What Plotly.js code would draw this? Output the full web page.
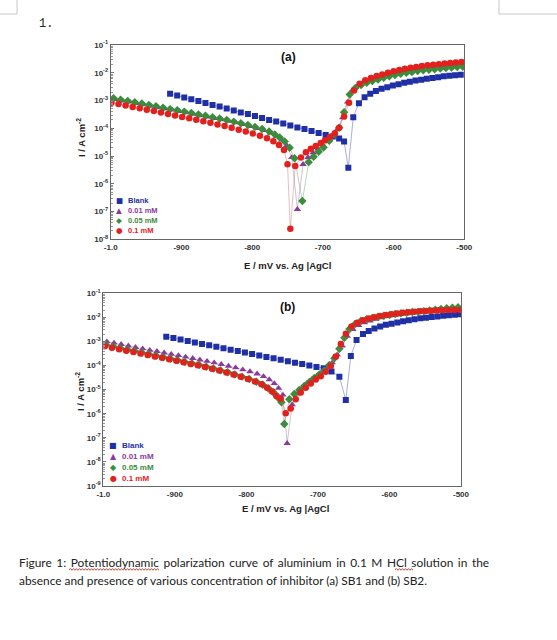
<!DOCTYPE html>
<html>
<head>
<meta charset="utf-8">
<script src="https://cdn.plot.ly/plotly-3.0.1.min.js"></script>
<style>
html,body{margin:0;padding:0;background:#ffffff;}
#chart{width:557px;height:640px;}
</style>
</head>
<body>
<div id="chart"></div>
<script>
// ---------- labels ----------
const seriesNames = ['Blank', '0.01 mM', '0.05 mM', '0.1 mM'];
const xTickVals = [-1000, -900, -800, -700, -600, -500];
const xTickText = ['-1.0', '-900', '-800', '-700', '-600', '-500'];
const yTickValsA = [1e-1, 1e-2, 1e-3, 1e-4, 1e-5, 1e-6, 1e-7, 1e-8];
const yTickTextA = ['10<sup>-1</sup>','10<sup>-2</sup>','10<sup>-3</sup>','10<sup>-4</sup>','10<sup>-5</sup>','10<sup>-6</sup>','10<sup>-7</sup>','10<sup>-8</sup>'];
const yTickValsB = [1e-1, 1e-2, 1e-3, 1e-4, 1e-5, 1e-6, 1e-7, 1e-8, 1e-9];
const yTickTextB = ['10<sup>-1</sup>','10<sup>-2</sup>','10<sup>-3</sup>','10<sup>-4</sup>','10<sup>-5</sup>','10<sup>-6</sup>','10<sup>-7</sup>','10<sup>-8</sup>','10<sup>-9</sup>'];

// ---------- panel (a) : SB1 ----------  (E in mV, log10 of I in A cm-2)
const aBlankE = [-916,-906,-896,-886,-876,-866,-856,-846,-836,-826,-816,-806,-796,-786,-776,-766,-756,-746,-736,-726,-716,-706,-696,-686,
  -677,-670,-664,
  -657,-649,-641,-633,-625,-617,-609,-601,-593,-585,-577,-569,-561,-553,-545,-537,-529,-521,-513,-505];
const aBlankLogI = [-2.76,-2.82,-2.89,-2.95,-3.02,-3.09,-3.16,-3.22,-3.29,-3.36,-3.43,-3.49,-3.56,-3.63,-3.70,-3.76,-3.83,-3.90,-3.97,-4.03,-4.10,-4.17,-4.24,-4.30,
  -4.37,-4.48,-5.42,
  -3.60,-3.10,-2.88,-2.76,-2.66,-2.58,-2.52,-2.46,-2.41,-2.36,-2.32,-2.28,-2.25,-2.22,-2.19,-2.16,-2.13,-2.11,-2.09,-2.07];

const a001E = [-993,-983,-973,-963,-953,-943,-933,-923,-913,-903,-893,-883,-873,-863,-853,-843,-833,-823,-813,-803,-793,-783,
  -774,-766,-758,-751,-744,-736,-728,-721,-714,-707,-700,-693,-686,-679,-672,-665,-658,-650,-642,
  -634,-626,-618,-610,-602,-594,-586,-578,-570,-562,-554,-546,-538,-530,-522,-514,-506];
const a001LogI = [-2.96,-3.01,-3.05,-3.10,-3.15,-3.20,-3.25,-3.30,-3.34,-3.39,-3.44,-3.49,-3.54,-3.59,-3.64,-3.69,-3.74,-3.80,-3.86,-3.93,-4.00,-4.08,
  -4.17,-4.28,-4.42,-4.62,-5.05,-6.92,-5.30,-5.05,-4.88,-4.74,-4.60,-4.42,-4.24,-4.02,-3.62,-3.05,-2.62,-2.44,-2.33,
  -2.25,-2.18,-2.12,-2.07,-2.02,-1.97,-1.93,-1.89,-1.86,-1.83,-1.80,-1.78,-1.76,-1.74,-1.72,-1.70,-1.69];

const a005E = [-996,-986,-976,-966,-956,-946,-936,-926,-916,-906,-896,-886,-876,-866,-856,-846,-836,-826,-816,-806,-796,-786,-776,
  -768,-761,-754,-747,-740,-729,-720,-713,-706,-699,-691,-684,-677,-670,-662,-654,-646,-638,
  -630,-622,-614,-606,-598,-590,-582,-574,-566,-558,-550,-542,-534,-526,-518,-510,-502];
const a005LogI = [-2.92,-2.97,-3.02,-3.06,-3.11,-3.16,-3.21,-3.26,-3.31,-3.35,-3.40,-3.45,-3.50,-3.55,-3.60,-3.65,-3.70,-3.76,-3.82,-3.88,-3.95,-4.03,-4.12,
  -4.22,-4.33,-4.48,-4.70,-5.08,-6.62,-5.22,-5.03,-4.85,-4.69,-4.45,-4.22,-3.98,-3.42,-2.78,-2.55,-2.44,-2.36,
  -2.30,-2.24,-2.18,-2.13,-2.08,-2.04,-2.00,-1.97,-1.94,-1.91,-1.89,-1.87,-1.85,-1.83,-1.81,-1.79,-1.78];

const a01E = [-999,-989,-979,-969,-959,-949,-939,-929,-919,-909,-899,-889,-879,-869,-859,-849,-839,-829,-819,-809,-799,-789,-779,
  -770,-762,-755,-750,-746,-739,-731,-724,-717,-710,-703,-697,-690,-683,-677,-670,-663,-656,-648,-640,
  -632,-624,-616,-608,-600,-592,-584,-576,-568,-560,-552,-544,-536,-528,-520,-512,-504];
const a01LogI = [-3.08,-3.13,-3.18,-3.23,-3.28,-3.33,-3.38,-3.43,-3.49,-3.54,-3.59,-3.64,-3.69,-3.75,-3.80,-3.86,-3.92,-3.98,-4.05,-4.12,-4.19,-4.27,-4.36,
  -4.47,-4.60,-4.78,-5.30,-7.62,-5.36,-5.05,-4.86,-4.74,-4.64,-4.53,-4.43,-4.31,-4.18,-3.98,-3.58,-3.08,-2.64,-2.40,-2.27,
  -2.19,-2.12,-2.06,-2.00,-1.95,-1.90,-1.86,-1.82,-1.79,-1.76,-1.73,-1.71,-1.69,-1.67,-1.65,-1.63,-1.61];

// ---------- panel (b) : SB2 ----------
const bBlankE = [-912,-902,-892,-882,-872,-862,-852,-842,-832,-822,-812,-802,-792,-782,-772,-762,-752,-742,-732,-722,-712,-702,-692,
  -681,-670,-661,-654,-646,-637,
  -629,-621,-613,-605,-597,-589,-581,-573,-565,-557,-549,-541,-533,-525,-517,-509,-502];
const bBlankLogI = [-2.80,-2.86,-2.92,-2.98,-3.04,-3.10,-3.16,-3.22,-3.28,-3.34,-3.40,-3.46,-3.52,-3.58,-3.64,-3.70,-3.76,-3.82,-3.88,-3.94,-4.00,-4.06,-4.11,
  -4.25,-4.46,-5.43,-3.60,-2.94,-2.69,
  -2.56,-2.46,-2.38,-2.31,-2.26,-2.21,-2.16,-2.12,-2.08,-2.04,-2.01,-1.98,-1.96,-1.93,-1.91,-1.89,-1.87];

const b001E = [-995,-985,-975,-965,-955,-945,-935,-925,-915,-905,-895,-885,-875,-865,-855,-845,-835,-825,-815,-805,-795,-785,
  -776,-768,-761,-755,-749,-743,-736,-729,-722,-715,-708,-701,-694,-687,-680,-673,-666,-659,-651,-643,
  -635,-627,-619,-611,-603,-595,-587,-579,-571,-563,-555,-547,-539,-531,-523,-515,-507];
const b001LogI = [-3.01,-3.06,-3.12,-3.18,-3.24,-3.30,-3.36,-3.41,-3.47,-3.53,-3.58,-3.64,-3.70,-3.76,-3.82,-3.88,-3.95,-4.02,-4.09,-4.17,-4.25,-4.34,
  -4.45,-4.58,-4.74,-4.94,-5.22,-7.23,-5.62,-5.18,-4.92,-4.72,-4.56,-4.42,-4.28,-4.10,-3.88,-3.55,-3.18,-2.78,-2.50,-2.33,
  -2.22,-2.14,-2.07,-2.01,-1.96,-1.92,-1.88,-1.84,-1.81,-1.78,-1.76,-1.74,-1.72,-1.70,-1.68,-1.67,-1.66];

const b005E = [-996,-986,-976,-966,-956,-946,-936,-926,-916,-906,-896,-886,-876,-866,-856,-846,-836,-826,-816,-806,-796,-786,
  -777,-769,-762,-756,-751,-747,-740,-733,-726,-719,-712,-705,-698,-691,-684,-677,-670,-663,-656,-648,-640,
  -632,-624,-616,-608,-600,-592,-584,-576,-568,-560,-552,-544,-536,-528,-520,-512,-504];
const b005LogI = [-3.15,-3.21,-3.28,-3.34,-3.40,-3.47,-3.53,-3.59,-3.66,-3.72,-3.78,-3.85,-3.91,-3.98,-4.05,-4.12,-4.20,-4.28,-4.37,-4.46,-4.56,-4.67,
  -4.80,-4.95,-5.12,-5.33,-5.52,-6.43,-5.40,-5.18,-5.01,-4.85,-4.68,-4.52,-4.37,-4.20,-3.98,-3.70,-3.30,-2.85,-2.48,-2.27,-2.15,
  -2.08,-2.02,-1.97,-1.93,-1.90,-1.86,-1.83,-1.81,-1.78,-1.76,-1.74,-1.71,-1.68,-1.65,-1.62,-1.60,-1.58];

const b01E = [-998,-988,-978,-968,-958,-948,-938,-928,-918,-908,-898,-888,-878,-868,-858,-848,-838,-828,-818,-808,-798,-788,
  -779,-771,-764,-758,-752,-745,-738,-731,-724,-717,-710,-703,-696,-689,-682,-675,-668,-661,-653,-645,
  -637,-629,-621,-613,-605,-597,-589,-581,-573,-565,-557,-549,-541,-533,-525,-517,-509,-501];
const b01LogI = [-3.20,-3.26,-3.32,-3.38,-3.44,-3.50,-3.56,-3.62,-3.68,-3.74,-3.80,-3.86,-3.93,-3.99,-4.06,-4.13,-4.21,-4.29,-4.37,-4.46,-4.56,-4.66,
  -4.78,-4.92,-5.08,-5.26,-5.38,-5.98,-5.78,-5.40,-5.12,-4.92,-4.74,-4.58,-4.44,-4.26,-4.02,-3.62,-3.10,-2.68,-2.38,-2.22,
  -2.12,-2.05,-1.99,-1.94,-1.90,-1.87,-1.84,-1.81,-1.79,-1.77,-1.75,-1.73,-1.72,-1.71,-1.70,-1.69,-1.69,-1.69];

// ---------- styles ----------
const W = 557, H = 640;
const px = x => x / W;
const py = y => 1 - y / H;
const colors = ['#1f2fa6', '#8a3a9c', '#3b8c3b', '#e2201e'];
const lineColors = ['rgba(60,70,170,0.55)', 'rgba(150,110,150,0.55)', 'rgba(110,150,110,0.55)', 'rgba(200,110,110,0.55)'];
const symbols = ['square', 'triangle-up', 'diamond', 'circle'];
const sizes = [6, 6.5, 6.5, 6.5];

function mk(E, logI, i, xa, ya) {
  return {
    type: 'scatter', mode: 'lines+markers',
    x: E, y: logI.map(v => Math.pow(10, v)),
    name: seriesNames[i], showlegend: false,
    xaxis: xa, yaxis: ya,
    line: {color: lineColors[i], width: 0.8},
    marker: {symbol: symbols[i], size: sizes[i], color: colors[i], line: {width: 0}}
  };
}

const traces = [
  mk(aBlankE, aBlankLogI, 0, 'x', 'y'),
  mk(a001E, a001LogI, 1, 'x', 'y'),
  mk(a005E, a005LogI, 2, 'x', 'y'),
  mk(a01E, a01LogI, 3, 'x', 'y'),
  mk(bBlankE, bBlankLogI, 0, 'x2', 'y2'),
  mk(b001E, b001LogI, 1, 'x2', 'y2'),
  mk(b005E, b005LogI, 2, 'x2', 'y2'),
  mk(b01E, b01LogI, 3, 'x2', 'y2')
];

const tickFont = {family: 'Liberation Sans, Arial, sans-serif', size: 8, color: '#333', weight: 'bold'};
function xax(domain, anchor) {
  return {domain: domain, anchor: anchor, range: [-1000, -500], tickmode: 'array', tickvals: xTickVals, ticktext: xTickText,
    showline: true, mirror: true, linecolor: '#666', linewidth: 1, ticks: '', showgrid: false, zeroline: false, tickfont: tickFont};
}
function yax(domain, anchor, range, vals, text) {
  return {domain: domain, anchor: anchor, type: 'log', range: range, tickmode: 'array', tickvals: vals, ticktext: text,
    showline: true, mirror: true, linecolor: '#666', linewidth: 1, ticks: 'inside', ticklen: 3, tickcolor: '#777',
    minor: {dtick: 'D1', ticks: 'inside', ticklen: 2, tickcolor: '#999', showgrid: false},
    showgrid: false, zeroline: false, tickfont: tickFont};
}

const titleFont = {family: 'Liberation Sans, Arial, sans-serif', size: 9.5, color: '#222', weight: 'bold'};
const annotations = [];
function ann(x, y, text, opts) {
  annotations.push(Object.assign({xref: 'paper', yref: 'paper', x: px(x), y: py(y), text: text, showarrow: false,
    xanchor: 'center', yanchor: 'middle'}, opts || {}));
}
// panel labels
ann(288, 57, '(a)', {font: {family: 'Liberation Sans, Arial, sans-serif', size: 12, color: '#111', weight: 'bold'}});
ann(287, 307, '(b)', {font: {family: 'Liberation Sans, Arial, sans-serif', size: 12, color: '#111', weight: 'bold'}});
// axis titles
ann(287, 265, 'E / mV vs. Ag |AgCl', {font: titleFont});
ann(285, 508, 'E / mV vs. Ag |AgCl', {font: titleFont});
ann(81, 138, 'I / A cm<sup>-2</sup>', {font: titleFont, textangle: -90});
ann(80, 392, 'I / A cm<sup>-2</sup>', {font: titleFont, textangle: -90});
// legends
const legendGlyphs = ['\u25A0', '\u25B2', '\u25C6', '\u25CF'];
const legA = {sx: 119.3, tx: 125.5, rows: [200, 210.3, 220.7, 230.7], size: 7.5};
const legB = {sx: 113, tx: 119.5, rows: [445.7, 456.7, 467.3, 478.3], size: 8};
[legA, legB].forEach(L => {
  seriesNames.forEach((n, i) => {
    ann(L.sx, L.rows[i], legendGlyphs[i], {font: {family: 'DejaVu Sans', size: L.size, color: colors[i]}});
    ann(L.tx, L.rows[i], n, {xanchor: 'left', font: {family: 'Liberation Sans, Arial, sans-serif', size: L.size, weight: 'bold', color: colors[i]}});
  });
});
// document text
ann(37, 24, '1.', {xanchor: 'left', font: {family: 'Liberation Mono, monospace', size: 12, color: '#222'}});
const capFont = {family: 'Lato, Open Sans, sans-serif', size: 11.9, color: '#222'};
ann(17, 562, '<span style="word-spacing:1.5px">Figure 1: Potentiodynamic polarization curve of aluminium in 0.1 M HCl solution in the</span>', {xanchor: 'left', font: capFont});
ann(17, 580, 'absence and presence of various concentration of inhibitor (a) SB1 and (b) SB2.', {xanchor: 'left', font: capFont});

// decorations: page corner marks & spell-check squiggles
function squiggle(x0, x1, y) {
  let d = 'M ' + px(x0) + ',' + py(y);
  let up = true;
  for (let x = x0 + 1.5; x <= x1; x += 1.5) {
    d += ' L ' + px(x) + ',' + py(y + (up ? -0.7 : 0.7));
    up = !up;
  }
  return {type: 'path', xref: 'paper', yref: 'paper', path: d, line: {color: '#c0392b', width: 1}};
}
const shapes = [
  {type: 'line', xref: 'paper', yref: 'paper', x0: px(0), x1: px(17), y0: py(14), y1: py(14), line: {color: '#c8c8c8', width: 1}},
  {type: 'line', xref: 'paper', yref: 'paper', x0: px(17), x1: px(17), y0: py(0), y1: py(14), line: {color: '#c8c8c8', width: 1}},
  {type: 'line', xref: 'paper', yref: 'paper', x0: px(499), x1: px(557), y0: py(14), y1: py(14), line: {color: '#c8c8c8', width: 1}},
  {type: 'line', xref: 'paper', yref: 'paper', x0: px(499), x1: px(499), y0: py(0), y1: py(14), line: {color: '#c8c8c8', width: 1}},
  squiggle(69, 159, 569.5),
  squiggle(395, 413, 569.5)
];

const layout = {
  width: W, height: H,
  margin: {l: 0, r: 0, t: 0, b: 0},
  paper_bgcolor: '#ffffff', plot_bgcolor: '#ffffff',
  showlegend: false,
  xaxis: xax([px(110.7), px(464.3)], 'y'),
  yaxis: yax([py(239.3), py(45)], 'x', [-8, -1], yTickValsA, yTickTextA),
  xaxis2: xax([px(103.3), px(461)], 'y2'),
  yaxis2: yax([py(486), py(293.3)], 'x2', [-9, -1], yTickValsB, yTickTextB),
  annotations: annotations,
  shapes: shapes
};

Plotly.newPlot('chart', traces, layout, {staticPlot: true, displayModeBar: false});
</script>
</body>
</html>
